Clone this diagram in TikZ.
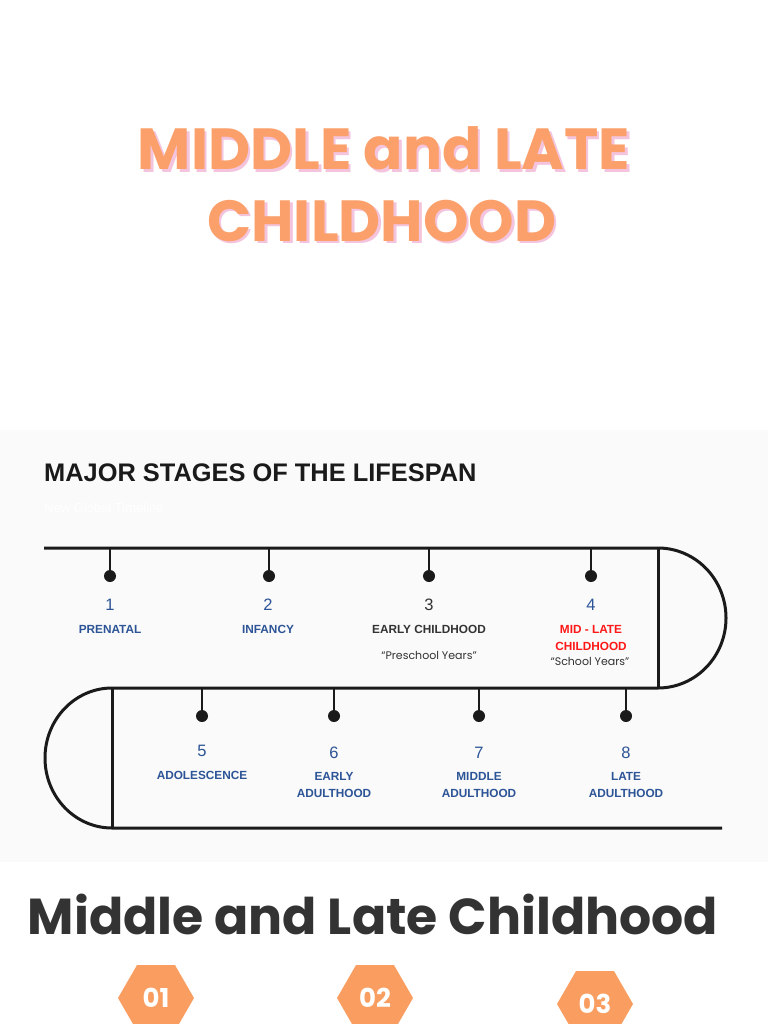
\documentclass[tikz,border=0pt]{standalone}
\usepackage{fontspec}
\setmainfont{Liberation Sans}
\newfontfamily\pop{Poppins}
\usetikzlibrary{shapes.geometric}
\definecolor{orng}{RGB}{251,160,106}
\definecolor{hexc}{RGB}{249,158,96}
\definecolor{stblue}{RGB}{44,84,150}
\definecolor{stred}{RGB}{255,24,24}
\definecolor{ink}{RGB}{26,26,26}
\definecolor{dgray}{RGB}{51,51,51}
\definecolor{panel}{RGB}{250,250,250}
\definecolor{shpink}{RGB}{244,196,222}
\newcommand{\shadowed}[1]{\makebox[0pt][l]{\kern2.5pt\raisebox{-2.5pt}{\textcolor{shpink}{#1}}}#1}
\tikzset{
  titlefont/.style={font=\pop\bfseries\fontsize{58}{60}\selectfont},
  tline/.style={draw=ink,line width=3pt,line join=round},
  tick/.style={draw=ink,line width=2.6pt},
  dot/.style={circle,fill=ink,inner sep=0pt,minimum size=12pt},
  num/.style={text=stblue,font=\fontsize{16.5}{18}\selectfont,inner sep=0pt},
  lbl/.style={text=stblue,font=\bfseries\fontsize{11.8}{17}\selectfont,align=center,inner sep=0pt},
  quote/.style={text=dgray,font=\pop\fontsize{11}{12}\selectfont,inner sep=0pt},
  hexa/.style={regular polygon,regular polygon sides=6,minimum size=76pt,inner sep=0pt,fill=hexc,text=white,font=\pop\bfseries\fontsize{26}{28}\selectfont}
}
\begin{document}
\begin{tikzpicture}[x=1pt,y=-1pt]
\useasboundingbox (0,0) rectangle (768,1024);
\fill[white] (0,0) rectangle (768,1024);
\fill[panel] (0,430) rectangle (768,862);

% title
\node[titlefont,text=orng] (t1) at (384,150) {\shadowed{MIDDLE and LATE}};
\node[titlefont,text=orng] (t2) at (382,222) {\shadowed{CHILDHOOD}};

% panel heading
\node[anchor=west,font=\bfseries\fontsize{25.4}{26}\selectfont,text=ink,inner sep=0pt] (hd) at (44,473) {MAJOR STAGES OF THE LIFESPAN};
\node[anchor=west,font=\fontsize{13}{15}\selectfont,text=white,inner sep=0pt] (sub) at (44,508) {New Global Timeline};

% timeline
\coordinate (tl) at (44,548);
\coordinate (tr) at (658,548);
\coordinate (mr) at (658,688);
\coordinate (ml) at (112,688);
\coordinate (bl) at (112,828);
\coordinate (br) at (722,828);
\draw[tline] (tl) -- (tr) arc[start angle=-90,end angle=90,x radius=68,y radius=70] -- (ml) arc[start angle=-90,end angle=-270,x radius=67,y radius=70] -- (br);
\draw[tline] (tr) -- (mr);
\draw[tline] (ml) -- (bl);

% ticks row 1
\foreach \i/\x in {1/110,2/269,3/429,4/591}{
  \coordinate (a\i) at (\x,548);
  \node[dot] (d\i) at (\x,576) {};
  \draw[tick] (a\i) -- (d\i);
}
% ticks row 2
\foreach \i/\x in {5/202,6/334,7/479,8/626}{
  \coordinate (a\i) at (\x,688);
  \node[dot] (d\i) at (\x,716) {};
  \draw[tick] (a\i) -- (d\i);
}

% labels row 1
\node[num] (n1) at (110,605) {1};
\node[lbl] (l1) at (110,629) {PRENATAL};
\node[num] (n2) at (268,605) {2};
\node[lbl] (l2) at (268,629) {INFANCY};
\node[num,text=dgray] (n3) at (429,605) {3};
\node[lbl,text=dgray] (l3) at (429,629) {EARLY CHILDHOOD};
\node[quote] (q3) at (429,655) {“Preschool Years”};
\node[num] (n4) at (591,605) {4};
\node[lbl,text=stred] (l4) at (591,637.5) {MID - LATE\\CHILDHOOD};
\node[quote] (q4) at (590,661) {“School Years”};

% labels row 2
\node[num] (n5) at (202,751) {5};
\node[lbl] (l5) at (202,775) {ADOLESCENCE};
\node[num] (n6) at (334,753) {6};
\node[lbl] (l6) at (334,784.5) {EARLY\\ADULTHOOD};
\node[num] (n7) at (479,753) {7};
\node[lbl] (l7) at (479,784.5) {MIDDLE\\ADULTHOOD};
\node[num] (n8) at (626,753) {8};
\node[lbl] (l8) at (626,784.5) {LATE\\ADULTHOOD};

% handwritten heading
\node[text=dgray,inner sep=0pt] (hw) at (373,914) {\resizebox{690pt}{!}{\pop\bfseries\fontsize{54}{56}\selectfont Middle and Late Childhood}};

% hexagons
\node[hexa] (h1) at (156,998) {01};
\node[hexa] (h2) at (375,998) {02};
\node[hexa] (h3) at (595,1004) {03};
\end{tikzpicture}
\end{document}
